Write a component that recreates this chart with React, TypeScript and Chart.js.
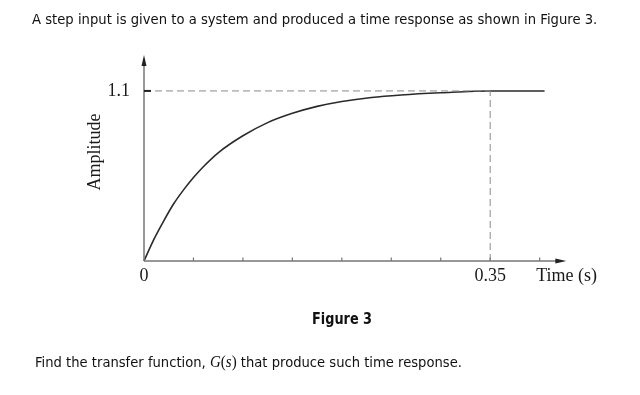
import React, { useEffect, useLayoutEffect, useRef } from "react";
import { Chart, registerables } from "chart.js";

Chart.register(...registerables);

// ---- data ----
const TIME = [0, 0.01, 0.02, 0.03, 0.04, 0.05, 0.06, 0.075, 0.1, 0.125, 0.15, 0.175, 0.2, 0.23, 0.26, 0.3, 0.35, 0.405];
const AMPLITUDE = [0, 0.14, 0.26, 0.37, 0.46, 0.54, 0.61, 0.7, 0.81, 0.895, 0.955, 1.0, 1.032, 1.058, 1.074, 1.088, 1.1, 1.1];
const FINAL_VALUE = 1.1;
const SETTLING_TIME = 0.35;
const X_TICKS = [0, 0.05, 0.1, 0.15, 0.2, 0.25, 0.3, 0.35, 0.4];
const X_LABELLED = [0, 0.35];
const X_LABEL_TEXT = ["0", "0.35"];
const Y_TICKS = [1.1];
const Y_LABEL_TEXT = ["1.1"];
const X_TITLE = "Time (s)";
const Y_TITLE = "Amplitude";
const X_AXIS_END = 0.427;
const Y_AXIS_END = 1.333;
const X_MAX = 0.458;
const Y_MAX = 1.41;

const SERIF = "'Liberation Serif', 'Times New Roman', serif";
const SANS = "'DejaVu Sans', Verdana, sans-serif";

function FitText(props: { left: number; top: number; width: number; style?: any; children: any }) {
  const ref = useRef<HTMLSpanElement>(null);
  useLayoutEffect(() => {
    const el = ref.current;
    if (!el) return;
    el.style.transform = "none";
    const w = el.offsetWidth;
    if (w > 0) el.style.transform = `scaleX(${props.width / w})`;
  });
  return (
    <span
      ref={ref}
      style={{
        position: "absolute",
        left: props.left,
        top: props.top,
        display: "inline-block",
        whiteSpace: "nowrap",
        transformOrigin: "0 0",
        color: "#111",
        ...props.style,
      }}
    >
      {props.children}
    </span>
  );
}

const axisPlugin = {
  id: "axisArrows",
  afterDatasetsDraw(chart: any) {
    const { ctx, scales } = chart;
    const x = scales.x;
    const y = scales.y;
    const x0 = x.getPixelForValue(0);
    const y0 = y.getPixelForValue(0);
    const xEnd = x.getPixelForValue(X_AXIS_END);
    const yEnd = y.getPixelForValue(Y_AXIS_END);
    ctx.save();
    ctx.strokeStyle = "#777";
    ctx.lineWidth = 1.5;
    ctx.beginPath();
    ctx.moveTo(x0, y0);
    ctx.lineTo(xEnd - 8, y0);
    ctx.moveTo(x0, y0);
    ctx.lineTo(x0, yEnd + 8);
    ctx.stroke();
    ctx.fillStyle = "#222";
    ctx.beginPath();
    ctx.moveTo(xEnd, y0);
    ctx.lineTo(xEnd - 11, y0 - 2.5);
    ctx.lineTo(xEnd - 11, y0 + 2.5);
    ctx.closePath();
    ctx.fill();
    ctx.beginPath();
    ctx.moveTo(x0, yEnd);
    ctx.lineTo(x0 - 2.5, yEnd + 11);
    ctx.lineTo(x0 + 2.5, yEnd + 11);
    ctx.closePath();
    ctx.fill();
    ctx.strokeStyle = "#777";
    ctx.lineWidth = 1.2;
    ctx.beginPath();
    X_TICKS.forEach((v) => {
      if (v <= 0) return;
      const px = x.getPixelForValue(v);
      ctx.moveTo(px, y0);
      ctx.lineTo(px, y0 - 3.5);
    });
    ctx.stroke();
    ctx.strokeStyle = "#222";
    ctx.lineWidth = 2;
    ctx.beginPath();
    Y_TICKS.forEach((v) => {
      const py = y.getPixelForValue(v);
      ctx.moveTo(x0, py);
      ctx.lineTo(x0 + 7, py);
    });
    ctx.stroke();
    ctx.restore();
  },
};

function ResponseChart() {
  const ref = useRef<HTMLCanvasElement>(null);
  useEffect(() => {
    if (!ref.current) return;
    const curve = TIME.map((t, i) => ({ x: t, y: AMPLITUDE[i] }));
    const chart = new Chart(ref.current, {
      type: "line",
      data: {
        datasets: [
          {
            data: [
              { x: 0, y: FINAL_VALUE },
              { x: SETTLING_TIME, y: FINAL_VALUE },
            ],
            borderColor: "#8a8a8a",
            borderWidth: 1,
            borderDash: [7, 4],
            pointRadius: 0,
            clip: false as any,
          },
          {
            data: [
              { x: SETTLING_TIME, y: 0 },
              { x: SETTLING_TIME, y: FINAL_VALUE },
            ],
            borderColor: "#8a8a8a",
            borderWidth: 1,
            borderDash: [7, 4],
            pointRadius: 0,
            clip: false as any,
          },
          {
            data: curve,
            borderColor: "#2a2a2a",
            borderWidth: 1.6,
            pointRadius: 0,
            cubicInterpolationMode: "monotone",
            clip: false as any,
          },
        ],
      },
      options: {
        responsive: false,
        animation: false,
        events: [],
        layout: { padding: { left: 80, right: 43, top: 43, bottom: 94 } },
        plugins: { legend: { display: false }, tooltip: { enabled: false } },
        scales: {
          x: {
            type: "linear",
            min: 0,
            max: X_MAX,
            grid: { display: false, drawTicks: false },
            border: { display: false },
            afterBuildTicks: (s: any) => {
              s.ticks = X_TICKS.map((v) => ({ value: v }));
            },
            afterFit: (s: any) => {
              s.height = 40;
            },
            ticks: {
              autoSkip: false,
              maxRotation: 0,
              padding: 4,
              color: "#1a1a1a",
              font: { family: SERIF, size: 18 },
              callback: (v: any) => {
                const i = X_LABELLED.findIndex((l) => Math.abs(l - Number(v)) < 1e-6);
                return i >= 0 ? X_LABEL_TEXT[i] : "";
              },
            },
            title: {
              display: true,
              text: X_TITLE,
              align: "end",
              color: "#1a1a1a",
              font: { family: SERIF, size: 18 },
              padding: { top: 0, bottom: 14 },
            },
          },
          y: {
            type: "linear",
            min: 0,
            max: Y_MAX,
            grid: { display: false, drawTicks: false },
            border: { display: false },
            afterBuildTicks: (s: any) => {
              s.ticks = Y_TICKS.map((v) => ({ value: v }));
            },
            afterFit: (s: any) => {
              s.width = 64;
            },
            ticks: {
              autoSkip: false,
              padding: 14,
              color: "#1a1a1a",
              font: { family: SERIF, size: 18 },
              callback: (v: any) => {
                const i = Y_TICKS.findIndex((l) => Math.abs(l - Number(v)) < 1e-6);
                return i >= 0 ? Y_LABEL_TEXT[i] : "";
              },
            },
            title: {
              display: true,
              text: Y_TITLE,
              color: "#1a1a1a",
              font: { family: SERIF, size: 18 },
              padding: { top: 4, bottom: 0 },
            },
          },
        },
      } as any,
      plugins: [axisPlugin],
    });
    return () => chart.destroy();
  }, []);
  return <canvas ref={ref} width={640} height={395} style={{ position: "absolute", left: 0, top: 0, width: 640, height: 395 }} />;
}

export default function App() {
  return (
    <div style={{ position: "fixed", left: 0, top: 0, width: 640, height: 395, background: "#fff", overflow: "hidden" }}>
      <ResponseChart />
      <FitText left={32} top={12} width={565} style={{ fontFamily: SANS, fontSize: 14, lineHeight: "14px" }}>
        A step input is given to a system and produced a time response as shown in Figure 3.
      </FitText>
      <FitText left={312} top={312} width={60} style={{ fontFamily: SANS, fontSize: 15, lineHeight: "15px", fontWeight: "bold" }}>
        Figure 3
      </FitText>
      <FitText left={35} top={355} width={427} style={{ fontFamily: SANS, fontSize: 14, lineHeight: "14px" }}>
        Find the transfer function,{" "}
        <span style={{ fontFamily: SERIF, fontSize: 16 }}>
          <i>G</i>(<i>s</i>)
        </span>{" "}
        that produce such time response.
      </FitText>
    </div>
  );
}
